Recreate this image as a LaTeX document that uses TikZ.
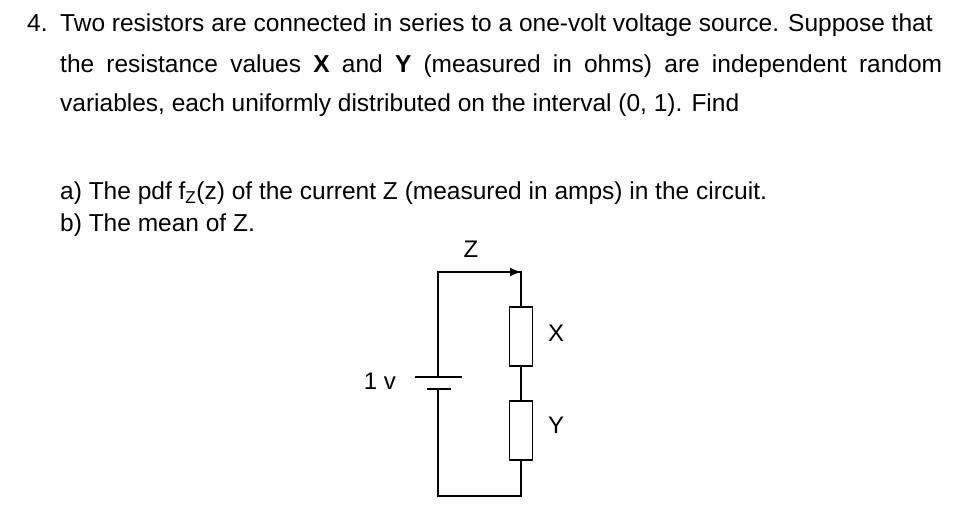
\documentclass[tikz,border=0pt]{standalone}
\usepackage{fontspec}
\setmainfont{Liberation Sans}
\usetikzlibrary{arrows.meta}
\begin{document}
\begin{tikzpicture}[x=1pt,y=-1pt,
  txt/.style={anchor=base west,inner sep=0pt,font=\fontsize{24.5}{28}\selectfont},
  lab/.style={inner sep=0pt,font=\fontsize{24}{28}\selectfont},
  wire/.style={line width=1.5pt},
  res/.style={draw,line width=1.2pt,minimum width=23pt,minimum height=59pt,inner sep=0pt,fill=white}]
\useasboundingbox (0,0) rectangle (970,505);
\node[txt] (n4) at (27,32) {4.};
\node[txt] (l1) at (60,32) {Two resistors are connected in series to a one-volt voltage source. Suppose that};
\node[txt] (l2) at (60,73) {\makebox[882pt][s]{the resistance values \textbf{X} and \textbf{Y} (measured in ohms) are independent random}};
\node[txt] (l3) at (60,112) {variables, each uniformly distributed on the interval (0, 1). Find};
\node[txt] (la) at (60,200) {a) The pdf f\textsubscript{Z}(z) of the current Z (measured in amps) in the circuit.};
\node[txt] (lb) at (60,232) {b) The mean of Z.};
\coordinate (tl) at (438,272);
\coordinate (tr) at (521,272);
\coordinate (bl) at (438,496);
\coordinate (br) at (521,496);
\coordinate (p1) at (438,377);
\coordinate (p2) at (438,389);
\node[res] (rx) at (521,336.5) {};
\node[res] (ry) at (521,430.5) {};
\draw[wire] (p1) -- (tl) -- (tr) -- (rx.north);
\draw[wire,-{Latex[length=11pt,width=9pt]}] (tl) -- (tr);
\draw[wire] (rx.south) -- (ry.north);
\draw[wire] (ry.south) -- (br) -- (bl) -- (p2);
\draw[wire] (415,377) -- (462,377);
\draw[wire] (427,389) -- (451,389);
\node[lab] (z) at (471,249) {Z};
\node[lab] (x) at (556,333) {X};
\node[lab] (y) at (556,425) {Y};
\node[lab] (v) at (380,381) {1 v};
\end{tikzpicture}
\end{document}
